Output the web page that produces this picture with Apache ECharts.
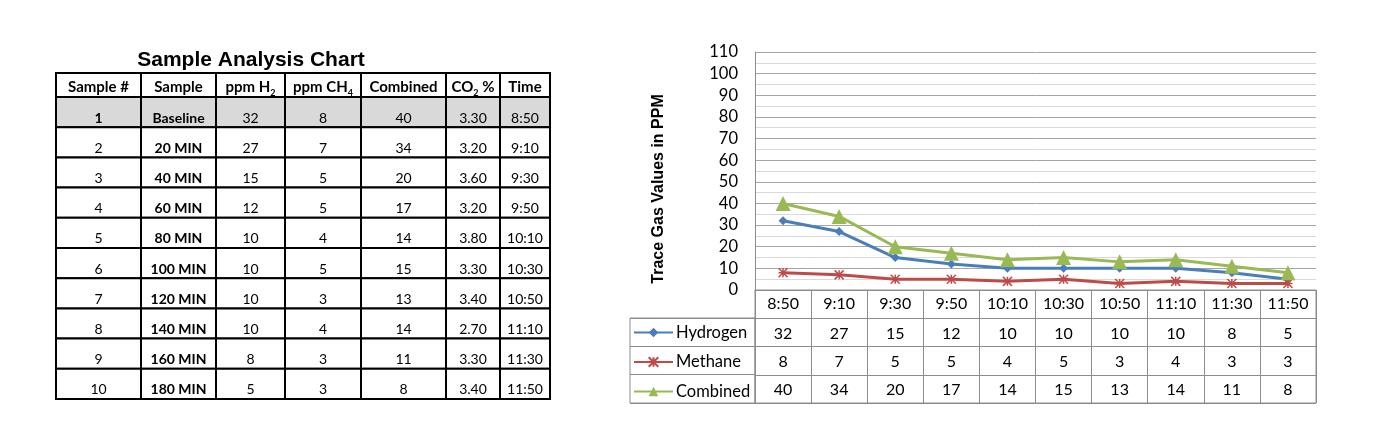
<!DOCTYPE html>
<html>
<head>
<meta charset="utf-8">
<script src="https://cdn.jsdelivr.net/npm/echarts@6/dist/echarts.min.js"></script>
<style>
html,body{margin:0;padding:0;background:#fff;}
#main{width:1375px;height:437px;}
</style>
</head>
<body>
<div id="main"></div>
<script>
// ---------- data ----------
const sampleNums = ['1','2','3','4','5','6','7','8','9','10'];
const sampleNames = ['Baseline','20 MIN','40 MIN','60 MIN','80 MIN','100 MIN','120 MIN','140 MIN','160 MIN','180 MIN'];
const hydrogen = [32,27,15,12,10,10,10,10,8,5];
const methane = [8,7,5,5,4,5,3,4,3,3];
const combined = [40,34,20,17,14,15,13,14,11,8];
const co2 = ['3.30','3.20','3.60','3.20','3.80','3.30','3.40','2.70','3.30','3.40'];
const times = ['8:50','9:10','9:30','9:50','10:10','10:30','10:50','11:10','11:30','11:50'];
const tableHeaders = ['{b|Sample #}','{b|Sample}','{b|ppm H}{s|2}','{b|ppm CH}{s|4}','{b|Combined}','{b|CO}{s|2}{b| %}','{b|Time}'];
const seriesNames = ['Hydrogen','Methane','Combined'];
const yTicks = {min:0, max:110, interval:10};

// ---------- layout (not data) ----------
const colEdges = [0,85,160,229,305,390,444,494];
const rowEdges = [0, 24];
for (let i = 1; i <= 10; i++) rowEdges.push(24 + 30.2 * i);

const FONT = 'Lato, "Open Sans", sans-serif';
const ARIAL = '"Liberation Sans", Arial, sans-serif';
const colors = ['#4A7EBB', '#BE4B48', '#98B954'];
const gridColor = '#8c8c8c';

function cellText(c, r) {
  if (r === 0) return tableHeaders[c];
  const i = r - 1;
  const cols = [sampleNums, sampleNames, hydrogen, methane, combined, co2, times];
  return String(cols[c][i]);
}

const cellData = [];
for (let r = 0; r <= 10; r++) for (let c = 0; c < 7; c++) cellData.push([c, r]);

function renderCell(params, api) {
  const c = api.value(0), r = api.value(1);
  const p0 = api.coord([colEdges[c], rowEdges[r]]);
  const p1 = api.coord([colEdges[c + 1], rowEdges[r + 1]]);
  const x = p0[0], y = Math.min(p0[1], p1[1]);
  const w = p1[0] - p0[0], h = Math.abs(p1[1] - p0[1]);
  const bold = c === 1 || (c === 0 && r === 1);
  const textStyle = r === 0 ? {
    text: cellText(c, r), x: x + w / 2, y: y + h / 2 + 1,
    align: 'center', verticalAlign: 'middle',
    rich: {
      b: {fontFamily: FONT, fontSize: 15, fontWeight: 'bold', fill: '#000', verticalAlign: 'bottom', lineHeight: 18},
      s: {fontFamily: FONT, fontSize: 9, fontWeight: 'bold', fill: '#000', verticalAlign: 'bottom', lineHeight: 18, padding: [0,0,-3,0]}
    }
  } : {
    text: cellText(c, r), x: x + w / 2, y: y + h / 2 + 6,
    align: 'center', verticalAlign: 'middle',
    fontFamily: FONT, fontSize: 14, fontWeight: bold ? 'bold' : 'normal', fill: '#000'
  };
  return {
    type: 'group',
    children: [
      {type: 'rect', shape: {x: x, y: y, width: w, height: h},
       style: {fill: r === 1 ? '#d9d9d9' : '#ffffff', stroke: '#000', lineWidth: 2}},
      {type: 'text', style: textStyle}
    ]
  };
}

const tableRows = ['hdr'].concat(seriesNames);
const valueArrays = [hydrogen, methane, combined];
const valueData = [];
valueArrays.forEach((arr, s) => arr.forEach((v, i) => valueData.push([i, s + 1, v])));

function renderValue(params, api) {
  const p = api.coord([api.value(0), api.value(1)]);
  return {type: 'text', style: {text: String(api.value(2)), x: p[0], y: p[1] + 1,
    align: 'center', verticalAlign: 'middle', fontFamily: FONT, fontSize: 16, fill: '#000'}};
}

const chart = echarts.init(document.getElementById('main'), null, {renderer: 'canvas'});
chart.setOption({
  animation: false,
  backgroundColor: '#fff',
  graphic: [
    {type: 'text', x: 251, y: 60, style: {text: 'Sample Analysis Chart', align: 'center', verticalAlign: 'middle',
      fontFamily: ARIAL, fontSize: 21, fontWeight: 'bold', fill: '#000'}},
    {type: 'text', x: 659, y: 189, rotation: Math.PI / 2, style: {text: 'Trace Gas Values in PPM', align: 'center', verticalAlign: 'middle',
      fontFamily: ARIAL, fontSize: 16, fontWeight: 'bold', fill: '#000'}}
  ],
  legend: {
    data: seriesNames, orient: 'vertical', left: 633, top: 324, padding: 0,
    itemWidth: 39, itemHeight: 12, itemGap: 12.5,
    textStyle: {fontFamily: FONT, fontSize: 16.5, color: '#000', lineHeight: 16, padding: [0,0,0,-2]}
  },
  grid: [
    {left: 755, top: 52, width: 561, height: 238},
    {left: 755, top: 290, width: 561, height: 113, show: true, borderColor: gridColor, borderWidth: 1},
    {left: 630, top: 318, width: 125, height: 85, show: true, borderColor: gridColor, borderWidth: 1},
    {left: 56, top: 73, width: 494, height: 326}
  ],
  xAxis: [
    {gridIndex: 0, type: 'category', data: times, boundaryGap: true,
     axisLine: {show: true, lineStyle: {color: gridColor}}, axisTick: {show: false},
     axisLabel: {interval: 0, margin: 6, fontFamily: FONT, fontSize: 16, color: '#000'}},
    {gridIndex: 1, type: 'category', data: times, boundaryGap: true,
     axisLine: {show: false}, axisTick: {show: false}, axisLabel: {show: false},
     splitLine: {show: true, interval: 0, lineStyle: {color: gridColor}}},
    {gridIndex: 2, type: 'value', min: 0, max: 1, show: false},
    {gridIndex: 3, type: 'value', min: 0, max: 494, show: false}
  ],
  yAxis: [
    {gridIndex: 0, type: 'value', min: yTicks.min, max: yTicks.max, interval: yTicks.interval,
     axisLine: {show: true, lineStyle: {color: gridColor}}, axisTick: {show: false},
     axisLabel: {margin: 17, fontFamily: FONT, fontSize: 16.5, color: '#000'},
     splitLine: {show: true, lineStyle: {color: '#a6a6a6'}},
     minorTick: {show: false, splitNumber: 2},
     minorSplitLine: {show: true, lineStyle: {color: '#d9d9d9'}}},
    {gridIndex: 1, type: 'category', data: tableRows, inverse: true,
     axisLine: {show: false}, axisTick: {show: false}, axisLabel: {show: false},
     splitLine: {show: true, interval: 0, lineStyle: {color: gridColor}}},
    {gridIndex: 2, type: 'category', data: seriesNames, inverse: true,
     axisLine: {show: false}, axisTick: {show: false}, axisLabel: {show: false},
     splitLine: {show: true, interval: 0, lineStyle: {color: gridColor}}},
    {gridIndex: 3, type: 'value', min: 0, max: 326, inverse: true, show: false}
  ],
  series: [
    {name: 'Hydrogen', type: 'line', data: hydrogen, color: colors[0],
     lineStyle: {width: 3, color: colors[0]}, symbol: 'diamond', symbolSize: 9,
     itemStyle: {color: colors[0]}},
    {name: 'Methane', type: 'line', data: methane, color: colors[1],
     lineStyle: {width: 3, color: colors[1]}, symbol: 'path://M0,0L10,10M10,0L0,10M5,0L5,10M0,5L10,5', symbolSize: 9,
     itemStyle: {color: 'rgba(0,0,0,0)', borderColor: colors[1], borderWidth: 1.5}},
    {name: 'Combined', type: 'line', data: combined, color: colors[2],
     lineStyle: {width: 3, color: colors[2]}, symbol: 'triangle', symbolSize: 15,
     itemStyle: {color: colors[2]}},
    {type: 'custom', name: 'valueTable', xAxisIndex: 1, yAxisIndex: 1, coordinateSystem: 'cartesian2d',
     renderItem: renderValue, data: valueData, silent: true, clip: false},
    {type: 'custom', name: 'sampleTable', xAxisIndex: 3, yAxisIndex: 3, coordinateSystem: 'cartesian2d',
     renderItem: renderCell, data: cellData, silent: true, clip: false}
  ]
});
</script>
</body>
</html>
